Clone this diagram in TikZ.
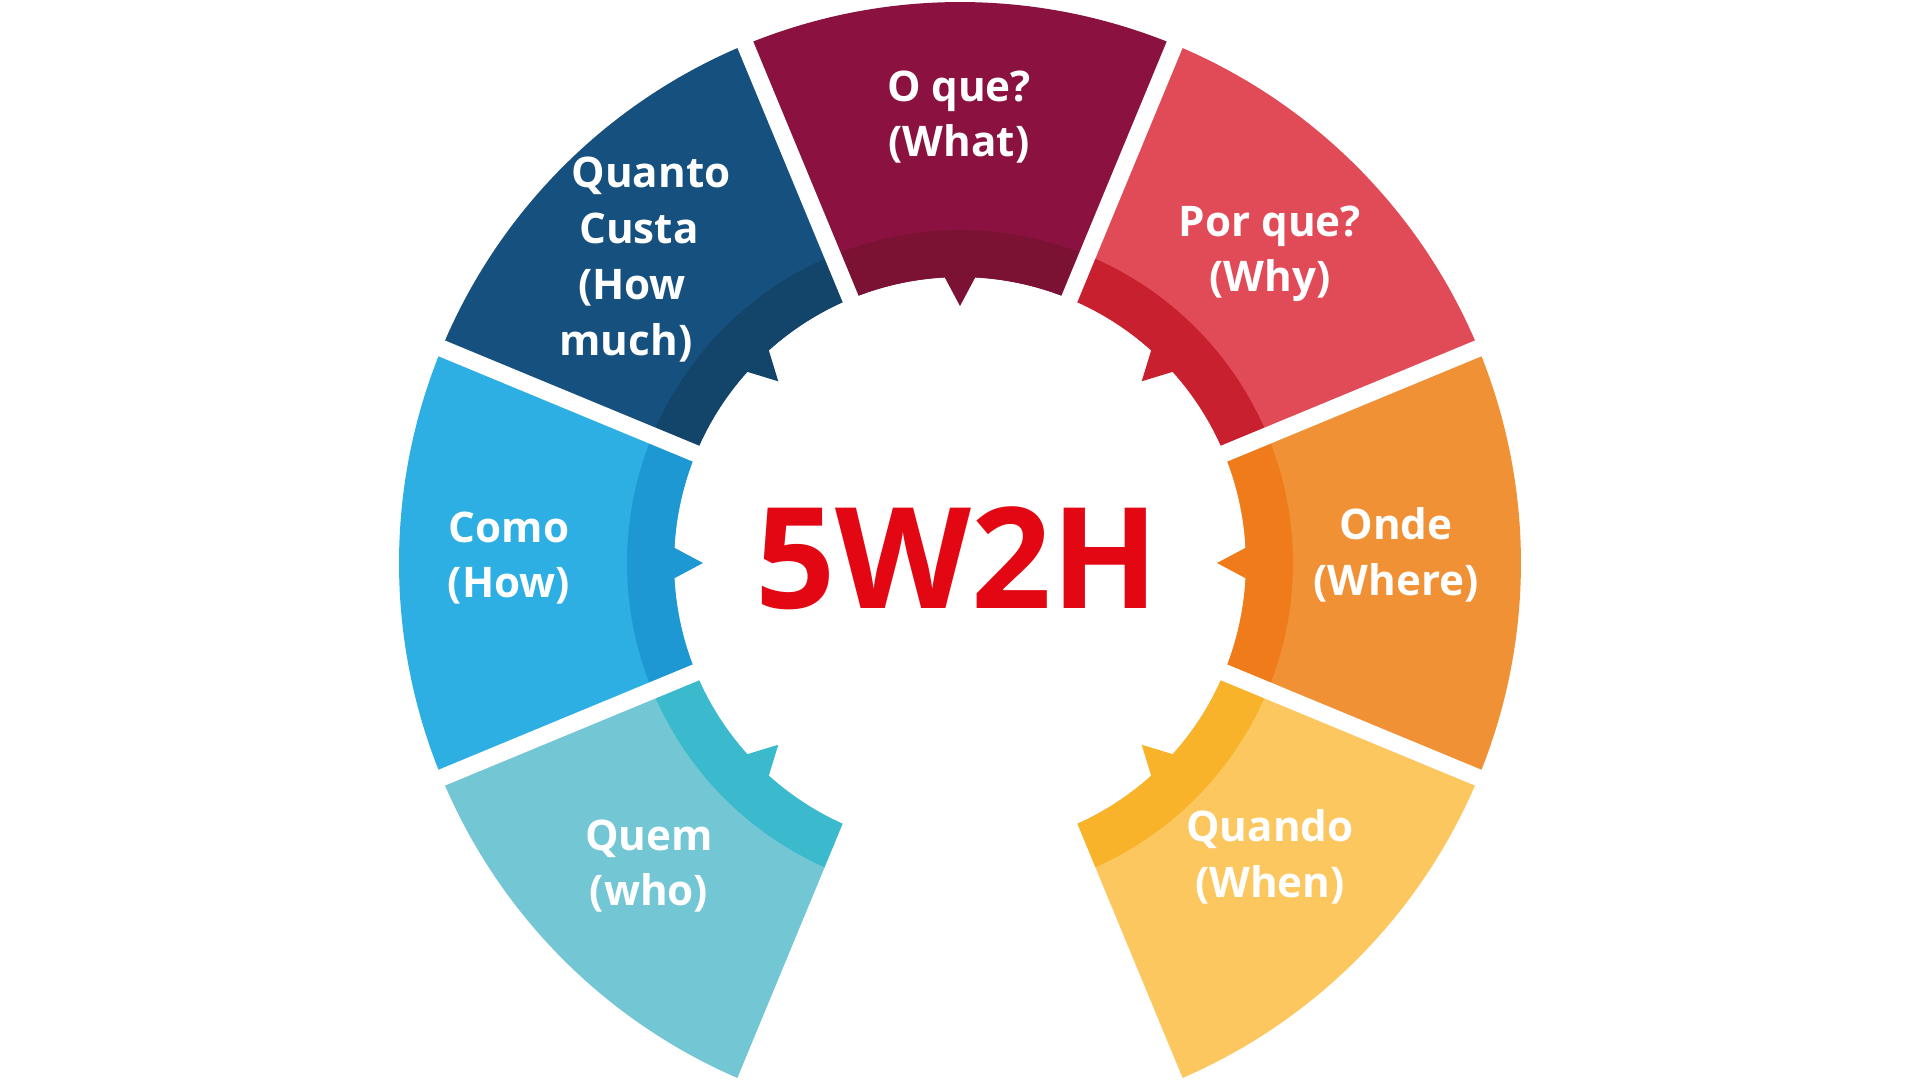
\documentclass[tikz,border=0pt]{standalone}
\usepackage{fontspec}
\setmainfont{Open Sans}
\definecolor{whatC}{HTML}{8B1240}\definecolor{whatD}{HTML}{7B1233}
\definecolor{whyC}{HTML}{E14A57}\definecolor{whyD}{HTML}{C9202F}
\definecolor{whereC}{HTML}{F19136}\definecolor{whereD}{HTML}{EF7B1A}
\definecolor{whenC}{HTML}{FCC75F}\definecolor{whenD}{HTML}{F9B32A}
\definecolor{whoC}{HTML}{73C6D3}\definecolor{whoD}{HTML}{3ABACC}
\definecolor{howC}{HTML}{2DAFE3}\definecolor{howD}{HTML}{1E98D3}
\definecolor{muchC}{HTML}{16507E}\definecolor{muchD}{HTML}{13446A}
\definecolor{titleRed}{HTML}{E30613}
\begin{document}
\begin{tikzpicture}[x=0.1mm,y=0.1mm,
  lbl/.style={text=white,align=center,inner sep=0pt,font=\fontsize{12}{15.8}\selectfont\bfseries},
  lline/.style={lbl,text height=9pt,text depth=2.5pt},
  gapline/.style={draw=white,line width=1.7mm}]
\useasboundingbox (-960,-517) rectangle (960,563);
\fill[white] (-960,-517) rectangle (960,563);
\def\Ri{286}\def\Rb{333}\def\Ro{561}\def\Rt{257}
\foreach \a/\cO/\cD in {90/whatC/whatD,45/whyC/whyD,0/whereC/whereD,-45/whenC/whenD,225/whoC/whoD,180/howC/howD,135/muchC/muchD}{
  \fill[\cO] (\a-22.5:\Ri) arc[start angle=\a-22.5,end angle=\a+22.5,radius=\Ri]
     -- (\a+22.5:\Ro) arc[start angle=\a+22.5,end angle=\a-22.5,radius=\Ro] -- cycle;
  \fill[\cD] (\a-22.5:\Ri) arc[start angle=\a-22.5,end angle=\a+22.5,radius=\Ri]
     -- (\a+22.5:\Rb) arc[start angle=\a+22.5,end angle=\a-22.5,radius=\Rb] -- cycle;
  \fill[\cD] (\a-3.6:292) -- (\a:\Rt) -- (\a+3.6:292) -- cycle;
}
\foreach \g in {22.5,67.5,112.5,157.5,202.5,247.5,292.5,337.5}{
  \path[gapline] (\g:240) -- (\g:590);
}
\node[lbl] (what) at (-1,446) {O que?\\(What)};
\node[lbl] (why) at (310,309) {Por que?\\(Why)};
\node[lbl] (where) at (436,8) {Onde\\(Where)};
\node[lbl] (when) at (310,-294) {Quando\\(When)};
\node[lbl] (who) at (-311,-303) {Quem\\(who)};
\node[lbl] (how) at (-451,5) {Como\\(How)};
\node[lline] (much1) at (-309,387) {Quanto};
\node[lline] (much2) at (-321,331) {Custa};
\node[lline] (much3) at (-328,275) {(How};
\node[lline] (much4) at (-334,219) {much)};
\node[text=titleRed,inner sep=0pt,font=\fontsize{40}{48}\selectfont\bfseries] (title) at (-3,5) {5W2H};
\end{tikzpicture}
\end{document}
